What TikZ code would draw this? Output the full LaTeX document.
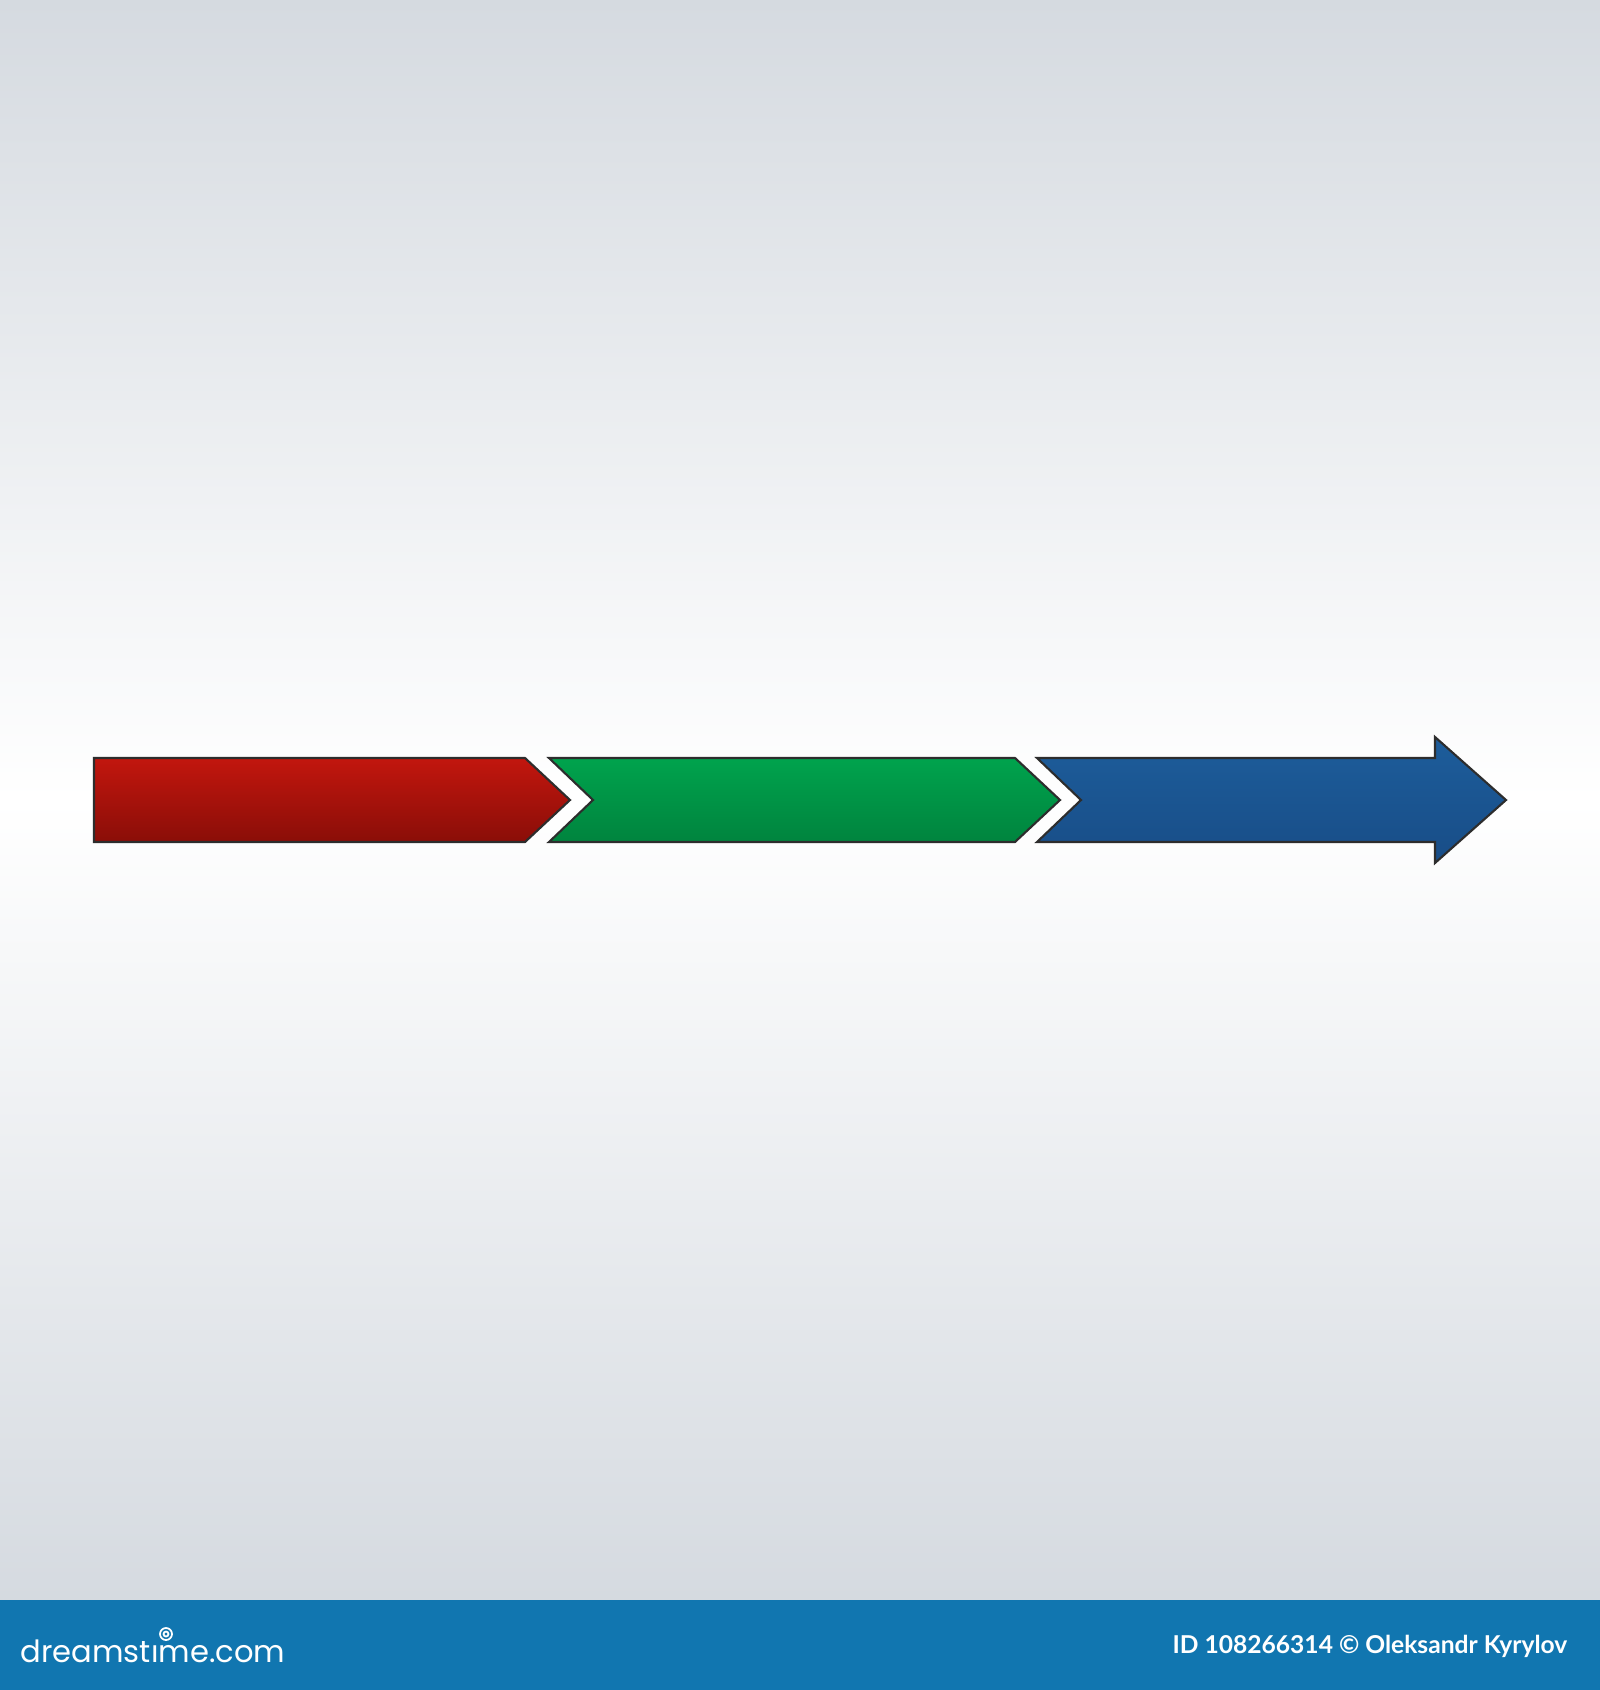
\documentclass[tikz,border=0pt]{standalone}
\usepackage{fontspec}
\setmainfont{Liberation Sans}
\newfontfamily\logofont{Poppins}
\newfontfamily\idfont{Lato}
\usetikzlibrary{positioning}

\definecolor{bgedge}{RGB}{213,218,224}
\definecolor{redtop}{RGB}{194,22,14}
\definecolor{redbot}{RGB}{138,14,8}
\definecolor{greentop}{RGB}{0,163,77}
\definecolor{greenbot}{RGB}{0,132,62}
\definecolor{bluetop}{RGB}{29,93,155}
\definecolor{bluebot}{RGB}{24,77,135}
\definecolor{footerblue}{RGB}{17,118,176}
\definecolor{outline}{RGB}{45,45,45}

\begin{document}
\begin{tikzpicture}[x=0.01cm,y=-0.01cm,
		part/.style={draw=outline, line width=0.6pt, line join=miter},
		redpart/.style={part, top color=redtop, bottom color=redbot},
		greenpart/.style={part, top color=greentop, bottom color=greenbot},
		bluepart/.style={part, top color=bluetop, bottom color=bluebot},
		tag/.style={white, inner sep=0pt}
		]
	\useasboundingbox (0,0) rectangle (1600,1690);
	
	%% background
	\shade[top color=bgedge, bottom color=bgedge, middle color=white] (0,0) rectangle (1600,1600);
	
	%% the three parts of the arrow
	\shade[redpart] (94,758) -- (525,758) -- (570,800) -- (525,842) -- (94,842) -- cycle;
	\shade[greenpart] (549,758) -- (1015,758) -- (1060,800) -- (1015,842) -- (549,842) -- (593,800) -- cycle;
	\shade[bluepart] (1037,758) -- (1435,758) -- (1435,737) -- (1506,800) -- (1435,863)
		-- (1435,842) -- (1037,842) -- (1081,800) -- cycle;
	
	%% footer
	\fill[footerblue] (0,1600) rectangle (1600,1690);
	\node[tag, anchor=base west, font=\logofont\fontsize{8.7}{8.7}\selectfont] (logo) at (20,1662) {dreamst\i me.com};
	\draw[white, line width=0.5pt] (166,1634) circle (6) (166,1634) circle (2.5);
	\node[tag, anchor=base east, font=\idfont\bfseries\fontsize{7}{7}\selectfont] (credit) at (1568,1653) {ID 108266314 © Oleksandr Kyrylov};
\end{tikzpicture}
\end{document}
